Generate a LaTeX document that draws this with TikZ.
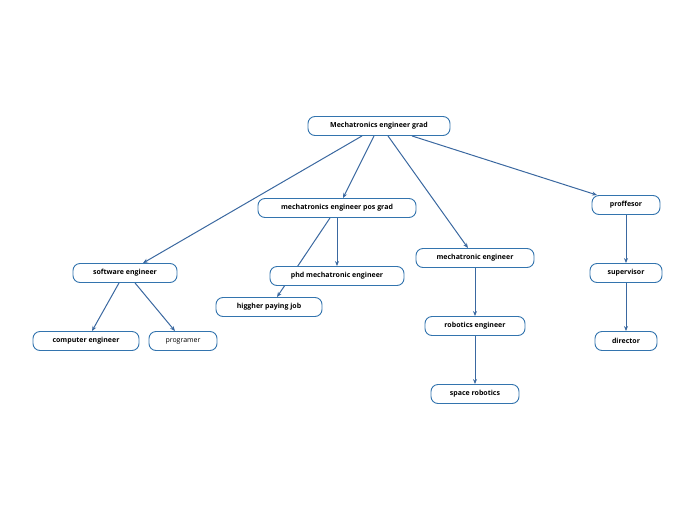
\documentclass[tikz,border=0pt]{standalone}
\usepackage{fontspec}
\setmainfont{Open Sans}
\usetikzlibrary{calc,backgrounds,arrows.meta}
\begin{document}
\begin{tikzpicture}[x=1pt,y=-1pt,
  box/.style={draw=cyan!60!blue!80!black, line width=0.9pt, rounded corners=7pt, fill=white, minimum height=19pt, font=\fontsize{7}{8}\selectfont\bfseries, inner sep=2pt},
  edge/.style={draw=cyan!50!blue!75!black, line width=1pt, -{Stealth[length=5pt,width=4pt]}}]
\useasboundingbox (0,0) rectangle (697,520);
\node[box,minimum width=142pt] (grad) at (379,126) {Mechatronics engineer grad};
\node[box,minimum width=158pt] (pos) at (337,208) {mechatronics engineer pos grad};
\node[box,minimum width=104pt] (soft) at (125,273) {software engineer};
\node[box,minimum width=134pt] (phd) at (337,276) {phd mechatronic engineer};
\node[box,minimum width=106pt] (job) at (269,307) {higgher paying job};
\node[box,minimum width=106pt] (comp) at (86,341) {computer engineer};
\node[box,minimum width=68pt,font=\fontsize{7}{8}\selectfont] (prog) at (183,341) {programer};
\node[box,minimum width=118pt] (mech) at (475,258) {mechatronic engineer};
\node[box,minimum width=100pt] (rob) at (475,326) {robotics engineer};
\node[box,minimum width=88pt] (space) at (475,394) {space robotics};
\node[box,minimum width=68pt] (prof) at (626,205) {proffesor};
\node[box,minimum width=72pt] (sup) at (626,273) {supervisor};
\node[box,minimum width=62pt] (dir) at (626,341) {director};
\begin{scope}[on background layer]
\draw[edge] ($(grad.south)+(-17,0)$) -- ($(soft.north)+(18,0)$);
\draw[edge] ($(grad.south)+(-5,0)$) -- ($(pos.north)+(6,0)$);
\draw[edge] ($(grad.south)+(9,0)$) -- ($(mech.north)+(-7,0)$);
\draw[edge] ($(grad.south)+(33,0)$) -- ($(prof.north)+(-29,0)$);
\draw[edge] (pos.south) -- (phd.north);
\draw[edge] ($(pos.south)+(-7,0)$) -- ($(job.north)+(8,0)$);
\draw[edge] ($(soft.south)+(-6,0)$) -- ($(comp.north)+(6,0)$);
\draw[edge] ($(soft.south)+(10,0)$) -- ($(prog.north)+(-8,0)$);
\draw[edge] (mech) -- (rob);
\draw[edge] (rob) -- (space);
\draw[edge] (prof) -- (sup);
\draw[edge] (sup) -- (dir);
\end{scope}
\end{tikzpicture}
\end{document}
